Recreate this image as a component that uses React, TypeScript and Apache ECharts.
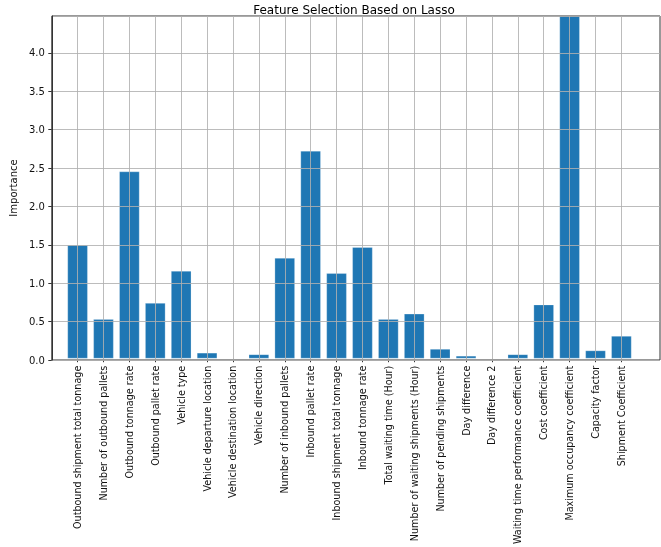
import React, { useEffect, useRef } from 'react';
import * as echarts from 'echarts';

// feature names, left to right
const features: string[] = [
  'Outbound shipment total tonnage',
  'Number of outbound pallets',
  'Outbound tonnage rate',
  'Outbound pallet rate',
  'Vehicle type',
  'Vehicle departure location',
  'Vehicle destination location',
  'Vehicle direction',
  'Number of inbound pallets',
  'Inbound pallet rate',
  'Inbound shipment total tonnage',
  'Inbound tonnage rate',
  'Total waiting time (Hour)',
  'Number of waiting shipments (Hour)',
  'Number of pending shipments',
  'Day difference',
  'Day difference 2',
  'Waiting time performance coefficient',
  'Cost coefficient',
  'Maximum occupancy coefficient',
  'Capacity factor',
  'Shipment Coefficient',
];

// lasso importance per feature
const importance: number[] = [
  1.49, 0.52, 2.45, 0.73, 1.15, 0.08, 0.0, 0.06, 1.32, 2.72, 1.12,
  1.46, 0.52, 0.59, 0.13, 0.04, 0.005, 0.06, 0.71, 5.0, 0.11, 0.3,
];

const yMax = 4.48;
const FONT = 'DejaVu Sans';
const GRID_COLOR = 'rgba(176,176,176,0.85)';

const App: React.FC = () => {
  const chartRef = useRef<HTMLDivElement>(null);

  useEffect(() => {
    document.body.style.margin = '0';
    if (!chartRef.current) return () => {};
    const chart = echarts.init(chartRef.current, null, { renderer: 'svg' });

    const lastIdx = features.length - 1;

    const option: any = {
      animation: false,
      title: {
        text: 'Feature Selection Based on Lasso',
        left: 349,
        textAlign: 'center',
        top: -1,
        textStyle: { fontFamily: FONT, fontSize: 12, fontWeight: 'normal', color: '#000' },
      },
      grid: [
        // full frame: horizontal grid lines and y labels
        { left: 39, right: 1, top: 16, bottom: 187, show: true, borderColor: '#333', borderWidth: 1, z: 3 },
        // narrower grid holding the bars, matching matplotlib's x margins
        { left: 64.64, right: 26.64, top: 16, bottom: 187 },
        // grid spanning first..last bar centre, for the vertical grid lines
        { left: 77.6, right: 39.6, top: 16, bottom: 187 },
      ],
      xAxis: [
        { type: 'value', gridIndex: 0, min: 0, max: 1, show: false },
        {
          type: 'category',
          gridIndex: 1,
          data: features,
          axisLine: { show: false },
          axisTick: { show: true, alignWithLabel: true, length: 3.5, interval: 0, lineStyle: { color: '#333' } },
          axisLabel: {
            interval: 0,
            rotate: 90,
            margin: 7,
            fontFamily: FONT,
            fontSize: 9.6,
            color: '#111',
          },
          splitLine: { show: false },
        },
        {
          type: 'value',
          gridIndex: 2,
          min: 0,
          max: lastIdx,
          interval: 1,
          z: 3,
          axisLine: { show: false },
          axisTick: { show: false },
          axisLabel: { show: false },
          splitLine: { show: true, lineStyle: { color: GRID_COLOR, width: 1 } },
        },
      ],
      yAxis: [
        {
          type: 'value',
          gridIndex: 0,
          min: 0,
          max: yMax,
          interval: 0.5,
          z: 3,
          name: 'Importance',
          nameLocation: 'middle',
          nameGap: 27,
          nameTextStyle: { fontFamily: FONT, fontSize: 10, color: '#111' },
          axisLine: { show: true, lineStyle: { color: '#333' } },
          axisTick: { show: true, length: 3.5, lineStyle: { color: '#333' } },
          axisLabel: {
            margin: 7,
            showMaxLabel: false,
            fontFamily: FONT,
            fontSize: 10,
            color: '#111',
            formatter: (v: number) => v.toFixed(1),
          },
          splitLine: { show: true, lineStyle: { color: GRID_COLOR, width: 1 } },
        },
        { type: 'value', gridIndex: 1, min: 0, max: yMax, show: false, splitLine: { show: false } },
        { type: 'value', gridIndex: 2, min: 0, max: yMax, show: false, splitLine: { show: false } },
      ],
      series: [
        {
          type: 'bar',
          xAxisIndex: 1,
          yAxisIndex: 1,
          data: importance,
          barWidth: '80%',
          clip: true,
          z: 2,
          itemStyle: {
            color: '#1f77b4',
            borderColor: 'rgba(255,255,255,0.25)',
            borderWidth: 1,
          },
        },
      ],
    };

    chart.setOption(option);
    return () => {
      chart.dispose();
    };
  }, []);

  return (
    <div
      ref={chartRef}
      style={{ position: 'fixed', left: 0, top: 0, width: 661, height: 547 }}
    />
  );
};

export default App;
